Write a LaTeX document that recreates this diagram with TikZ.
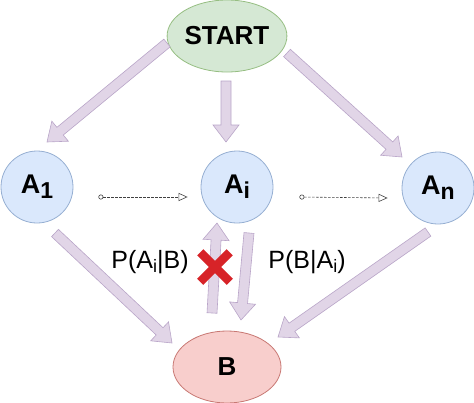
\documentclass[tikz,border=0pt]{standalone}
\usepackage{fontspec}
\setmainfont{Liberation Sans}
\definecolor{BlueFill}{RGB}{218,232,252}
\definecolor{BlueLine}{RGB}{150,175,210}
\definecolor{GreenFill}{RGB}{213,232,212}
\definecolor{GreenLine}{RGB}{150,190,130}
\definecolor{RedFill}{RGB}{248,206,204}
\definecolor{RedLine}{RGB}{200,120,115}
\definecolor{ArrowFill}{RGB}{225,213,231}
\definecolor{ArrowLine}{RGB}{185,165,200}
\definecolor{CrossRed}{RGB}{215,35,40}
\usepackage{tikz}
\usetikzlibrary{positioning, arrows.meta, shapes.geometric, shapes.misc, calc}
\tikzstyle{event} = [circle, draw=BlueLine, fill=BlueFill, line width=0.8pt, minimum size=72pt, inner sep=0pt, font=\fontsize{27}{27}\selectfont\bfseries]
\tikzstyle{terminal} = [ellipse, line width=0.8pt, minimum width=108pt, minimum height=72pt, inner sep=0pt, font=\fontsize{26}{26}\selectfont\bfseries]
\tikzstyle{fat} = [draw=ArrowLine, fill=ArrowFill, line width=0.6pt, line join=miter]
\tikzstyle{dotarrow} = [dash pattern=on 2.5pt off 1.5pt, line width=0.6pt, black!75, {Circle[open, length=5pt]}-{Triangle[open, length=9pt, width=8pt]}]
\tikzstyle{prob} = [font=\fontsize{25}{25}\selectfont]
\newcommand{\lowsub}[3]{\raisebox{-#1pt}{\fontsize{#2}{#2}\selectfont #3}}
\newcommand{\fatarrow}[2]{%
  \coordinate (fa-s) at (#1);
  \coordinate (fa-e) at (#2);
  \coordinate (fa-h) at ($(fa-e)!17pt!(fa-s)$);
  \draw[fat] ($(fa-s)!5pt!90:(fa-e)$) -- ($(fa-h)!5pt!-90:(fa-s)$) -- ($(fa-h)!13pt!-90:(fa-s)$) -- (fa-e)
    -- ($(fa-h)!13pt!90:(fa-s)$) -- ($(fa-h)!5pt!90:(fa-s)$) -- ($(fa-s)!5pt!-90:(fa-e)$) -- cycle;
}
\begin{document}
\begin{tikzpicture}[x=1pt, y=-1pt]
  \useasboundingbox (0,0) rectangle (474,402);
  \node[terminal, draw=GreenLine, fill=GreenFill] (start) at (227,36) {START};
  \node[event] (a1) at (37,187) {A\lowsub{5}{23}{1}};
  \node[event] (ai) at (237,187) {A\lowsub{5}{23}{i}};
  \node[event] (an) at (438,188) {A\lowsub{5}{23}{n}};
  \node[terminal, draw=RedLine, fill=RedFill] (b) at (227,367) {B};

  \fatarrow{$(start)+(-60,7)$}{$(a1)+(10,-45)$}
  \fatarrow{$(start)+(-1,45)$}{$(ai)+(-11,-45)$}
  \fatarrow{$(start)+(60,17)$}{$(an)+(-36,-31)$}
  \fatarrow{$(a1)+(18,46)$}{$(b)+(-55,-24)$}
  \fatarrow{$(an)+(-10,44)$}{$(b)+(51,-30)$}
  \fatarrow{$(b)+(-15,-54)$}{$(ai)+(-20,36)$}
  \fatarrow{$(ai)+(12,46)$}{$(b)+(14,-47)$}

  \draw[dotarrow] ($(a1.east)+(25,10)$) -- ($(ai.west)+(-13,10)$);
  \draw[dotarrow] ($(ai.east)+(26,10)$) -- ($(an.west)+(-14,10)$);

  \node[prob] (pab) at (150,262) {P(A\lowsub{4}{18}{i}|B)};
  \node[prob] (pba) at (307,262) {P(B|A\lowsub{4}{18}{i})};
  \node[cross out, draw=CrossRed, line width=8.5pt, minimum size=21pt, inner sep=0pt] (nope) at (215,267) {};
\end{tikzpicture}
\end{document}
